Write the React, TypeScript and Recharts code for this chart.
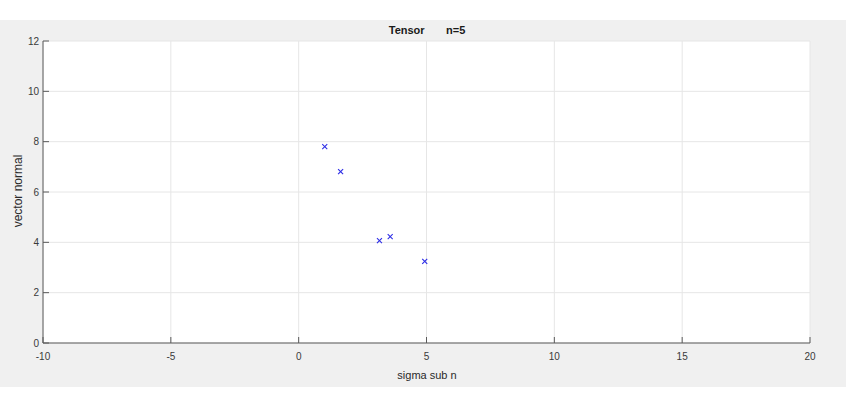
import React from "react";
import { ScatterChart, Scatter, XAxis, YAxis, CartesianGrid } from "recharts";

const SIGMA_SUB_N = [1.02, 1.64, 3.16, 3.58, 4.93];
const VECTOR_NORMAL = [7.8, 6.81, 4.07, 4.23, 3.24];
const X_TICKS = [-10, -5, 0, 5, 10, 15, 20];
const Y_TICKS = [0, 2, 4, 6, 8, 10, 12];
const TITLE_LEFT = "Tensor";
const TITLE_RIGHT = "n=5";
const X_LABEL = "sigma sub n";
const Y_LABEL = "vector normal";

const data = SIGMA_SUB_N.map((x, i) => ({ x, y: VECTOR_NORMAL[i] }));

const AXIS = "#5a5a5a";
const TICK_TEXT = "#3a3a3a";
const GRID = "#e6e6e6";
const MARK = "#2e2ee6";
const FONT = "'Liberation Sans', Arial, Helvetica, sans-serif";
const TL = 6;

const BottomTick = (props: any) => {
  const { x, y, payload } = props;
  return (
    <g>
      <line x1={x} y1={y} x2={x} y2={y - TL} stroke={AXIS} />
      <text x={x} y={y + 17} textAnchor="middle" fontSize={10} fill={TICK_TEXT} fontFamily={FONT}>
        {payload.value}
      </text>
    </g>
  );
};

const TopTick = (props: any) => {
  const { x, y } = props;
  return <line x1={x} y1={y} x2={x} y2={y + TL} stroke={AXIS} />;
};

const LeftTick = (props: any) => {
  const { x, y, payload } = props;
  return (
    <g>
      <line x1={x} y1={y} x2={x + TL} y2={y} stroke={AXIS} />
      <text x={x - 4} y={y + 3.5} textAnchor="end" fontSize={10} fill={TICK_TEXT} fontFamily={FONT}>
        {payload.value}
      </text>
    </g>
  );
};

const RightTick = (props: any) => {
  const { x, y } = props;
  return <line x1={x} y1={y} x2={x - TL} y2={y} stroke={AXIS} />;
};

const XMark = (props: any) => {
  const { cx, cy } = props;
  const r = 2.5;
  return (
    <g>
      <line x1={cx - r} y1={cy - r} x2={cx + r} y2={cy + r} stroke={MARK} strokeWidth={1.1} />
      <line x1={cx - r} y1={cy + r} x2={cx + r} y2={cy - r} stroke={MARK} strokeWidth={1.1} />
    </g>
  );
};

export default function App() {
  return (
    <div style={{ position: "absolute", left: 0, top: 0, width: 867, height: 400, background: "#fff", fontFamily: FONT }}>
      <div style={{ position: "absolute", left: 0, top: 20, width: 846, height: 367, background: "#f0f0f0" }}>
        <ScatterChart width={846} height={367} margin={{ top: 21, right: 36, bottom: 24, left: 3 }}>
          <CartesianGrid xAxisId="b" yAxisId="l" stroke={GRID} fill="#ffffff" />
          <XAxis
            xAxisId="b"
            type="number"
            dataKey="x"
            domain={[-10, 20]}
            ticks={X_TICKS}
            height={20}
            tickSize={0}
            tickMargin={0}
            tickLine={false}
            axisLine={{ stroke: AXIS }}
            tick={<BottomTick />}
            interval={0}
            allowDataOverflow
          />
          <XAxis
            xAxisId="t"
            orientation="top"
            type="number"
            domain={[-10, 20]}
            ticks={X_TICKS}
            height={0}
            tickSize={0}
            tickMargin={0}
            tickLine={false}
            axisLine={{ stroke: AXIS }}
            tick={<TopTick />}
            interval={0}
            allowDataOverflow
          />
          <YAxis
            yAxisId="l"
            type="number"
            dataKey="y"
            domain={[0, 12]}
            ticks={Y_TICKS}
            width={40}
            tickSize={0}
            tickMargin={0}
            tickLine={false}
            axisLine={{ stroke: AXIS }}
            tick={<LeftTick />}
            interval={0}
            allowDataOverflow
          />
          <YAxis
            yAxisId="r"
            orientation="right"
            type="number"
            domain={[0, 12]}
            ticks={Y_TICKS}
            width={0}
            tickSize={0}
            tickMargin={0}
            tickLine={false}
            axisLine={{ stroke: AXIS }}
            tick={<RightTick />}
            interval={0}
            allowDataOverflow
          />
          <Scatter xAxisId="b" yAxisId="l" data={data} shape={<XMark />} isAnimationActive={false} />
        </ScatterChart>
      </div>
      <div
        style={{
          position: "absolute",
          left: 327,
          width: 200,
          top: 22,
          textAlign: "center",
          fontSize: 11,
          fontWeight: "bold",
          color: "#1a1a1a",
          whiteSpace: "pre",
          lineHeight: "16px",
        }}
      >
        {TITLE_LEFT + "       " + TITLE_RIGHT}
      </div>
      <div
        style={{
          position: "absolute",
          left: 327,
          width: 200,
          top: 368,
          textAlign: "center",
          fontSize: 11,
          color: "#2a2a2a",
          lineHeight: "14px",
        }}
      >
        {X_LABEL}
      </div>
      <div
        style={{
          position: "absolute",
          left: 18 - 60,
          top: 191 - 7,
          width: 120,
          textAlign: "center",
          fontSize: 12,
          color: "#2a2a2a",
          lineHeight: "14px",
          transform: "rotate(-90deg)",
        }}
      >
        {Y_LABEL}
      </div>
    </div>
  );
}
